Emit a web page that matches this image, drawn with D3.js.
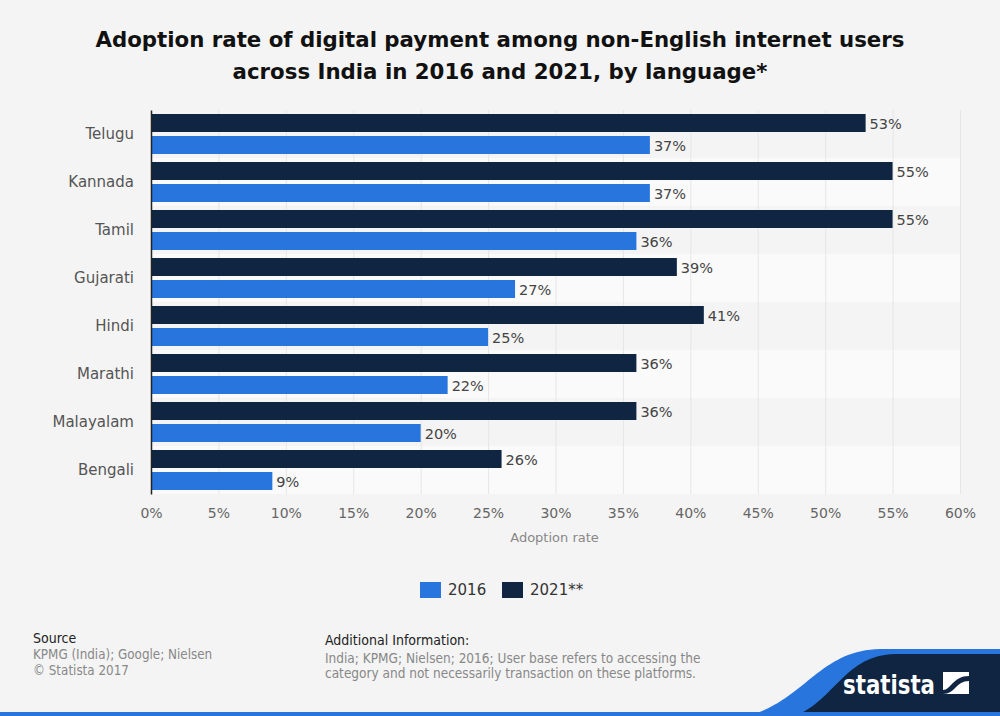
<!DOCTYPE html>
<html>
<head>
<meta charset="utf-8">
<script src="https://d3js.org/d3.v7.min.js"></script>
<style>
  body { margin: 0; background: #f4f4f4; }
  svg { display: block; font-family: "DejaVu Sans", sans-serif; }
</style>
</head>
<body>
<svg id="chart" width="1000" height="716"></svg>
<script>
var languages = ["Telugu", "Kannada", "Tamil", "Gujarati", "Hindi", "Marathi", "Malayalam", "Bengali"];
var rate2016 = [37, 37, 36, 27, 25, 22, 20, 9];
var rate2021 = [53, 55, 55, 39, 41, 36, 36, 26];
var seriesNames = ["2021**", "2016"];
var xTicks = [0, 5, 10, 15, 20, 25, 30, 35, 40, 45, 50, 55, 60];

var colors = { "2016": "#2876dd", "2021**": "#0f2541" };

var svg = d3.select("#chart");

svg.append("rect").attr("width", 1000).attr("height", 716).attr("fill", "#f4f4f4");

// title
svg.append("text")
    .attr("x", 500).attr("y", 47)
    .attr("text-anchor", "middle")
    .attr("font-size", 21.3).attr("font-weight", "bold").attr("fill", "#111")
    .selectAll("tspan")
    .data(["Adoption rate of digital payment among non-English internet users",
           "across India in 2016 and 2021, by language*"])
    .join("tspan")
    .attr("x", 500)
    .attr("dy", function(d, i) { return i ? 32 : 0; })
    .text(function(d) { return d; });

var x = d3.scaleLinear().domain([0, 60]).range([151, 960]);
var y = d3.scaleBand().domain(languages).range([110, 494]);
var y1 = d3.scaleBand().domain(seriesNames).range([0, y.bandwidth()])
    .paddingInner(4 / 22).paddingOuter(4 / 22);

// stripes
svg.append("g").selectAll("rect")
    .data(languages)
    .join("rect")
    .attr("x", x(0)).attr("width", x(60) - x(0))
    .attr("y", function(d) { return y(d); })
    .attr("height", y.bandwidth())
    .attr("fill", function(d, i) { return i % 2 ? "#fafafa" : "#f4f4f4"; });

// grid
svg.append("g").selectAll("line")
    .data(xTicks.slice(1))
    .join("line")
    .attr("x1", function(d) { return x(d) + 0.5; })
    .attr("x2", function(d) { return x(d) + 0.5; })
    .attr("y1", 110).attr("y2", 494)
    .attr("stroke", "#e6e6e6").attr("stroke-width", 1);

var rows = languages.map(function(l, i) {
  return { lang: l, values: [
    { key: "2021**", v: rate2021[i] },
    { key: "2016", v: rate2016[i] }
  ] };
});

var groups = svg.append("g").selectAll("g")
    .data(rows)
    .join("g")
    .attr("transform", function(d) { return "translate(0," + y(d.lang) + ")"; });

groups.selectAll("rect")
    .data(function(d) { return d.values; })
    .join("rect")
    .attr("x", x(0))
    .attr("y", function(d) { return y1(d.key); })
    .attr("width", function(d) { return x(d.v) - x(0); })
    .attr("height", y1.bandwidth())
    .attr("fill", function(d) { return colors[d.key]; });

groups.selectAll("text")
    .data(function(d) { return d.values; })
    .join("text")
    .attr("x", function(d) { return x(d.v) + 4; })
    .attr("y", function(d) { return y1(d.key) + y1.bandwidth() / 2 + 1; })
    .attr("dy", "0.36em")
    .attr("font-size", 14.5).attr("fill", "#444")
    .text(function(d) { return d.v + "%"; });

// y axis
var yAxis = svg.append("g")
    .attr("transform", "translate(" + x(0) + ",0)")
    .call(d3.axisLeft(y).tickSize(0).tickPadding(17));
yAxis.select(".domain").attr("stroke", "#222").attr("stroke-width", 1.5);
yAxis.selectAll("text").attr("font-size", 15).attr("fill", "#555")
    .attr("font-family", "DejaVu Sans, sans-serif");

// x axis
var xAxis = svg.append("g")
    .attr("transform", "translate(0,494)")
    .call(d3.axisBottom(x).tickValues(xTicks).tickSize(0).tickPadding(14)
      .tickFormat(function(d) { return d + "%"; }));
xAxis.select(".domain").remove();
xAxis.selectAll("text").attr("font-size", 14).attr("fill", "#666")
    .attr("font-family", "DejaVu Sans, sans-serif");

svg.append("text")
    .attr("x", (x(0) + x(60)) / 2 - 1).attr("y", 542)
    .attr("text-anchor", "middle")
    .attr("font-size", 13).attr("fill", "#888")
    .text("Adoption rate");

// legend
var legendKeys = ["2016", "2021**"];
var legendX = [420, 502];
var legend = svg.append("g").selectAll("g")
    .data(legendKeys)
    .join("g")
    .attr("transform", function(d, i) { return "translate(" + legendX[i] + ",582)"; });
legend.append("rect").attr("width", 21).attr("height", 16)
    .attr("fill", function(d) { return colors[d]; });
legend.append("text").attr("x", 28).attr("y", 8).attr("dy", "0.36em")
    .attr("font-size", 15).attr("fill", "#333")
    .text(function(d) { return d; });

// footer
var foot = svg.append("g").attr("font-family", "Liberation Sans Narrow, DejaVu Sans Condensed, sans-serif");
foot.append("text").attr("x", 33).attr("y", 643).attr("font-size", 14).attr("fill", "#222").text("Source");
foot.append("text").attr("x", 33).attr("y", 659).attr("font-size", 13.3).attr("fill", "#888").text("KPMG (India); Google; Nielsen");
foot.append("text").attr("x", 33).attr("y", 675).attr("font-size", 13.3).attr("fill", "#888").text("\u00a9 Statista 2017");
foot.append("text").attr("x", 325).attr("y", 645).attr("font-size", 14).attr("fill", "#222").text("Additional Information:");
foot.append("text").attr("x", 325).attr("y", 663).attr("font-size", 13.5).attr("fill", "#888").text("India; KPMG; Nielsen; 2016; User base refers to accessing the");
foot.append("text").attr("x", 325).attr("y", 678).attr("font-size", 13.5).attr("fill", "#888").text("category and not necessarily transaction on these platforms.");

// statista logo corner
svg.append("path")
    .attr("d", "M748,716 C805,700 820,650 880,649 L1000,649 L1000,716 Z")
    .attr("fill", "#2876dd");
svg.append("path")
    .attr("d", "M795,716 C835,700 845,655 895,654 L1000,654 L1000,716 Z")
    .attr("fill", "#0f2541");
svg.append("rect").attr("x", 0).attr("y", 712).attr("width", 1000).attr("height", 4).attr("fill", "#2876dd");
svg.append("text").attr("x", 843).attr("y", 694)
    .attr("font-size", 27).attr("font-weight", "bold").attr("fill", "#fff")
    .attr("font-family", "DejaVu Sans Condensed, sans-serif")
    .attr("textLength", 92).attr("lengthAdjust", "spacingAndGlyphs")
    .text("statista");
var logo = svg.append("g").attr("transform", "translate(943,672)");
logo.append("rect").attr("width", 26).attr("height", 22).attr("fill", "#fff");
logo.append("path")
    .attr("d", "M0,18 C8,18 10,4 26,4 L26,9 C13,9 12,22 0,22 Z")
    .attr("fill", "#0f2541");
</script>
</body>
</html>
